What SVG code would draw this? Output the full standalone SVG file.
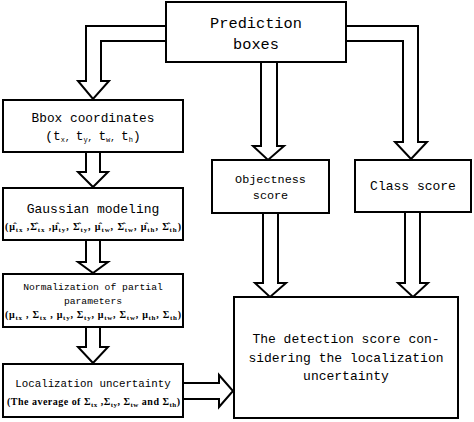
<svg xmlns="http://www.w3.org/2000/svg" width="474" height="422" viewBox="0 0 474 422">
<style>
.box{fill:#fff;stroke:#000;stroke-width:2}
.arr{fill:#fff;stroke:#000;stroke-width:2;stroke-linejoin:miter}
.t{font-family:"Liberation Mono","DejaVu Sans Mono",monospace;fill:#000;text-anchor:middle}
.p{font-family:"Liberation Serif","DejaVu Serif",serif;font-weight:bold;fill:#000;font-size:10px}
.s{font-size:7px}
.c{font-size:9px}
</style>
<rect width="474" height="422" fill="#fff"/>
<g id="connectors">
<polygon class="arr" points="166,26 86,26 86,81 78,81 93,99 109,81 101,81 101,41 166,41"/>
<polygon class="arr" points="346,26 418,26 418,142 427,142 411,159 395,142 403,142 403,41 346,41"/>
<polygon class="arr" points="261,62 261,146 253,146 268,160 284,146 277,146 277,62"/>
<polygon class="arr" points="86,152 86,172 78,172 93,187 108,172 100,172 100,152"/>
<polygon class="arr" points="86,240 86,262 78,262 93,273 108,262 100,262 100,240"/>
<polygon class="arr" points="86,327 86,347 78,347 93,363 108,347 100,347 100,327"/>
<polygon class="arr" points="183,383 219,383 219,375 233,391 219,407 219,399 183,399"/>
<polygon class="arr" points="263,213 263,283 255,283 270,297 286,283 278,283 278,213"/>
<polygon class="arr" points="405,212 405,283 398,283 413,297 428,283 420,283 420,212"/>
</g>
<g id="prediction">
<rect class="box" x="166" y="2" width="180" height="60"/>
<text class="t" x="256" y="28" font-size="15.3">Prediction</text>
<text class="t" x="256" y="49" font-size="15.3">boxes</text>
</g>
<g id="bbox">
<rect class="box" x="3" y="100" width="180" height="52"/>
<text class="t" x="93" y="122" font-size="12.8">Bbox coordinates</text>
<text class="t" x="93" y="140" font-size="12.8">(t<tspan class="s" dy="2">x</tspan><tspan class="c" dy="-2">, </tspan>t<tspan class="s" dy="2">y</tspan><tspan class="c" dy="-2">, </tspan>t<tspan class="s" dy="2">w</tspan><tspan class="c" dy="-2">, </tspan>t<tspan class="s" dy="2">h</tspan><tspan dy="-2">)</tspan></text>
</g>
<g id="gaussian">
<rect class="box" x="3" y="188" width="180" height="52"/>
<text class="t" x="93" y="213" font-size="13">Gaussian modeling</text>
<text class="p" x="5" y="230" textLength="176" lengthAdjust="spacing">(μ̂<tspan class="s" dy="2">tx</tspan><tspan dy="-2"> ,Σ̂</tspan><tspan class="s" dy="2">tx</tspan><tspan dy="-2"> ,μ̂</tspan><tspan class="s" dy="2">ty</tspan><tspan dy="-2">, Σ̂</tspan><tspan class="s" dy="2">ty</tspan><tspan dy="-2">, μ̂</tspan><tspan class="s" dy="2">tw</tspan><tspan dy="-2">, Σ̂</tspan><tspan class="s" dy="2">tw</tspan><tspan dy="-2">, μ̂</tspan><tspan class="s" dy="2">th</tspan><tspan dy="-2">, Σ̂</tspan><tspan class="s" dy="2">th</tspan><tspan dy="-2">)</tspan></text>
</g>
<g id="normalization">
<rect class="box" x="3" y="274" width="180" height="53"/>
<text class="t" x="93" y="290" font-size="9.7">Normalization of partial</text>
<text class="t" x="93" y="304" font-size="9.7">parameters</text>
<text class="p" x="5" y="318" textLength="176" lengthAdjust="spacing">(μ<tspan class="s" dy="2">tx</tspan><tspan dy="-2"> , Σ</tspan><tspan class="s" dy="2">tx</tspan><tspan dy="-2"> , μ</tspan><tspan class="s" dy="2">ty</tspan><tspan dy="-2">, Σ</tspan><tspan class="s" dy="2">ty</tspan><tspan dy="-2">, μ</tspan><tspan class="s" dy="2">tw</tspan><tspan dy="-2">, Σ</tspan><tspan class="s" dy="2">tw</tspan><tspan dy="-2">, μ</tspan><tspan class="s" dy="2">th</tspan><tspan dy="-2">, Σ</tspan><tspan class="s" dy="2">th</tspan><tspan dy="-2">)</tspan></text>
</g>
<g id="localization">
<rect class="box" x="3" y="364" width="180" height="53"/>
<text class="t" x="93" y="387" font-size="10.8">Localization uncertainty</text>
<text class="p" x="7" y="405" textLength="173" lengthAdjust="spacing">(The average of Σ<tspan class="s" dy="2">tx</tspan><tspan dy="-2"> ,Σ</tspan><tspan class="s" dy="2">ty</tspan><tspan dy="-2">, Σ</tspan><tspan class="s" dy="2">tw</tspan><tspan dy="-2">  and Σ</tspan><tspan class="s" dy="2">th</tspan><tspan dy="-2">)</tspan></text>
</g>
<g id="objectness">
<rect class="box" x="212" y="160" width="117" height="53"/>
<text class="t" x="270.5" y="183" font-size="11.8">Objectness</text>
<text class="t" x="270.5" y="199" font-size="11.8">score</text>
</g>
<g id="class">
<rect class="box" x="355" y="160" width="116" height="52"/>
<text class="t" x="413" y="190" font-size="13">Class score</text>
</g>
<g id="detection">
<rect class="box" x="234" y="297" width="224" height="121"/>
<text class="t" x="346" y="343" font-size="13">The detection score con-</text>
<text class="t" x="346" y="362" font-size="13">sidering the localization</text>
<text class="t" x="346" y="380" font-size="13">uncertainty</text>
</g>
</svg>
